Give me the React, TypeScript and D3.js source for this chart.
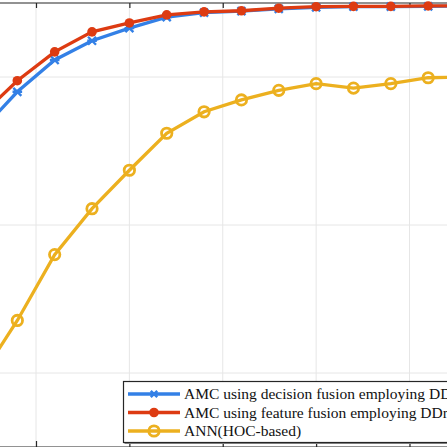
import React, { useEffect, useRef } from "react";
import * as d3 from "d3";

// SNR (dB) points for each curve
const snr = [-8, -6, -4, -2, 0, 2, 4, 6, 8, 10, 12, 14, 16, 18];

// accuracy (%)
const decisionFusion = [82.6, 88.0, 92.3, 94.9, 96.6, 98.1, 98.7, 98.9, 99.2, 99.4, 99.5, 99.5, 99.55, 99.6];
const featureFusion = [84.7, 89.5, 93.4, 96.1, 97.3, 98.4, 98.8, 98.95, 99.3, 99.5, 99.55, 99.55, 99.6, 99.6];
const annHoc = [49.3, 57.1, 66.0, 72.2, 77.4, 82.4, 85.3, 86.9, 88.2, 89.1, 88.5, 89.1, 89.9, 90.0];

const xTicks = [-5, 0, 5, 10, 15];
const yTicks = [50, 70, 90];

const legendLabels = [
  "AMC using decision fusion employing DDrCNN",
  "AMC using feature fusion employing DDrCNN",
  "ANN(HOC-based)",
];

const App = () => {
  const ref = useRef<SVGSVGElement | null>(null);

  useEffect(() => {
    const width = 447;
    const svg = d3.select(ref.current);
    svg.selectAll("*").remove();

    const blue = "#3380e6";
    const red = "#dd3b12";
    const yellow = "#ecb01f";

    // only part of the axes is in view, so the scales reach past the edges
    const x = d3.scaleLinear().domain([-5, 15]).range([36, 409.5]);
    const y = d3.scaleLinear().domain([50, 90]).range([373, 77]);

    const top = y(100);
    const bottom = y(40);

    // grid
    svg
      .append("g")
      .selectAll("line")
      .data(xTicks)
      .enter()
      .append("line")
      .attr("x1", (d) => x(d))
      .attr("x2", (d) => x(d))
      .attr("y1", top)
      .attr("y2", bottom)
      .attr("stroke", "#e6e6e6")
      .attr("stroke-width", 1);

    svg
      .append("g")
      .selectAll("line")
      .data(yTicks)
      .enter()
      .append("line")
      .attr("x1", 0)
      .attr("x2", width)
      .attr("y1", (d) => y(d))
      .attr("y2", (d) => y(d))
      .attr("stroke", "#e6e6e6")
      .attr("stroke-width", 1);

    // top and bottom axes (box)
    const topAxis = d3.axisTop(x).tickValues(xTicks).tickSize(-5).tickFormat(() => "");
    const bottomAxis = d3.axisBottom(x).tickValues(xTicks).tickSize(-6).tickFormat(() => "");
    const gTop = svg.append("g").attr("transform", `translate(0,${top})`).call(topAxis);
    const gBottom = svg.append("g").attr("transform", `translate(0,${bottom})`).call(bottomAxis);
    [gTop, gBottom].forEach((g) => {
      g.select(".domain").attr("d", `M-10,0H${width + 10}`).attr("stroke", "#262626").attr("stroke-width", 1.2);
      g.selectAll(".tick line").attr("stroke", "#262626").attr("stroke-width", 1.2);
    });

    const line = d3
      .line<number>()
      .x((_, i) => x(snr[i]))
      .y((d) => y(d));

    // decision fusion - asterisks
    svg
      .append("path")
      .datum(decisionFusion)
      .attr("d", line)
      .attr("fill", "none")
      .attr("stroke", blue)
      .attr("stroke-width", 3.3);
    const star = (g: any, cx: number, cy: number, s: number) => {
      g.append("path")
        .attr(
          "d",
          `M${cx - s},${cy - s}L${cx + s},${cy + s}M${cx - s},${cy + s}L${cx + s},${cy - s}M${cx - s * 1.2},${cy}L${cx + s * 1.2},${cy}`
        )
        .attr("stroke", blue)
        .attr("stroke-width", 2.4)
        .attr("fill", "none");
    };
    const gBlue = svg.append("g");
    decisionFusion.forEach((d, i) => star(gBlue, x(snr[i]), y(d), 4));

    // feature fusion - filled circles
    svg
      .append("path")
      .datum(featureFusion)
      .attr("d", line)
      .attr("fill", "none")
      .attr("stroke", red)
      .attr("stroke-width", 3.3);
    svg
      .append("g")
      .selectAll("circle")
      .data(featureFusion)
      .enter()
      .append("circle")
      .attr("cx", (_, i) => x(snr[i]))
      .attr("cy", (d) => y(d))
      .attr("r", 4.8)
      .attr("fill", red);

    // ANN - open circles
    svg
      .append("path")
      .datum(annHoc)
      .attr("d", line)
      .attr("fill", "none")
      .attr("stroke", yellow)
      .attr("stroke-width", 3.3);
    svg
      .append("g")
      .selectAll("circle")
      .data(annHoc)
      .enter()
      .append("circle")
      .attr("cx", (_, i) => x(snr[i]))
      .attr("cy", (d) => y(d))
      .attr("r", 5.2)
      .attr("fill", "none")
      .attr("stroke", yellow)
      .attr("stroke-width", 2.8);

    // legend
    const lx = 123.5;
    const ly = 381.5;
    const lg = svg.append("g");
    lg.append("rect")
      .attr("x", lx + 1)
      .attr("y", ly + 1)
      .attr("width", 400)
      .attr("height", 61.5)
      .attr("fill", "#888");
    lg.append("rect")
      .attr("x", lx)
      .attr("y", ly)
      .attr("width", 400)
      .attr("height", 61)
      .attr("fill", "#fff")
      .attr("stroke", "#262626")
      .attr("stroke-width", 1.2);

    const colors = [blue, red, yellow];
    legendLabels.forEach((label, i) => {
      const cy = ly + 12.5 + i * 18.5;
      lg.append("line")
        .attr("x1", 128)
        .attr("x2", 180)
        .attr("y1", cy)
        .attr("y2", cy)
        .attr("stroke", colors[i])
        .attr("stroke-width", 3.3);
      if (i === 0) star(lg, 154, cy, 3.2);
      if (i === 1) lg.append("circle").attr("cx", 154).attr("cy", cy).attr("r", 4.8).attr("fill", red);
      if (i === 2)
        lg.append("circle")
          .attr("cx", 154)
          .attr("cy", cy)
          .attr("r", 5.2)
          .attr("fill", "none")
          .attr("stroke", yellow)
          .attr("stroke-width", 2.8);
      lg.append("text")
        .attr("x", 184)
        .attr("y", cy + 5)
        .attr("font-family", "'Liberation Serif', 'Times New Roman', serif")
        .attr("font-size", 15.5)
        .attr("fill", "#111")
        .text(label);
    });
  }, []);

  return (
    <svg
      ref={ref}
      width={447}
      height={447}
      style={{ position: "absolute", left: 0, top: 0, background: "#fff" }}
    />
  );
};

export default App;
